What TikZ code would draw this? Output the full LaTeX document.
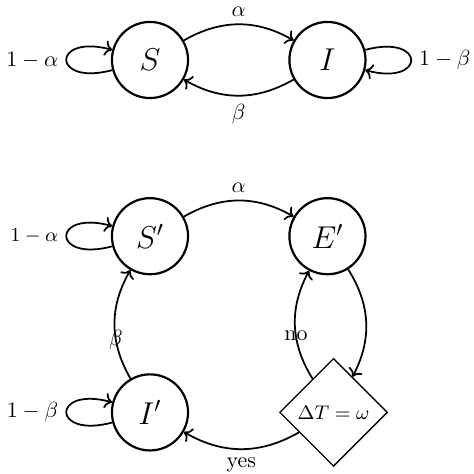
\documentclass[tikz,border=0pt]{standalone}
\usepackage{amsmath,amssymb}
\usetikzlibrary{positioning,shapes.geometric,arrows.meta}

\begin{document}
\begin{tikzpicture}[
    node distance=1.57cm and 1.59cm,
    compartment/.style={
        draw,
        circle,
        line width=1pt,
        minimum size=1.22cm,
        inner sep=0pt,
        font=\Large
    },
    check/.style={
        draw,
        diamond,
        semithick,
        minimum size=1.73cm,
        inner sep=0pt,
        font=\small
    },
    flow/.style={->, thick}
]
\useasboundingbox (0,0) rectangle (7.6,-7.6);

% two-state model
\node[compartment] (S) at (2.405,-0.962) {$S$};
\node[compartment, right=of S] (I) {$I$};

% model with delay check
\node[compartment, below=of S] (Sp) {$S'$};
\node[compartment, right=of Sp] (Ep) {$E'$};
\node[compartment, below=of Sp] (Ip) {$I'$};
\node[check, right=1.44cm of Ip] (dT) {$\Delta T=\omega$};

\draw[flow] (S) to[bend left=30] node[above] {$\alpha$} (I);
\draw[flow] (I) to[bend left=30] node[below] {$\beta$} (S);
\draw[flow] (S) to[loop left] node[left] {$1-\alpha$} (S);
\draw[flow] (I) to[loop right] node[right] {$1-\beta$} (I);

\draw[flow] (Sp) to[bend left=30] node[above] {$\alpha$} (Ep);
\draw[flow] (Ep) to[bend left=30] (dT);
\draw[flow] (dT) to[bend left=30] node[pos=0.4] {no} (Ep);
\draw[flow] (dT) to[bend left=30] node[below] {yes} (Ip);
\draw[flow] (Ip) to[bend left=30] node[pos=0.35] {$\beta$} (Sp);
\draw[flow] (Sp) to[loop left] node[left, font=\small] {$1-\alpha$} (Sp);
\draw[flow] (Ip) to[loop left] node[left] {$1-\beta$} (Ip);

\end{tikzpicture}
\end{document}
